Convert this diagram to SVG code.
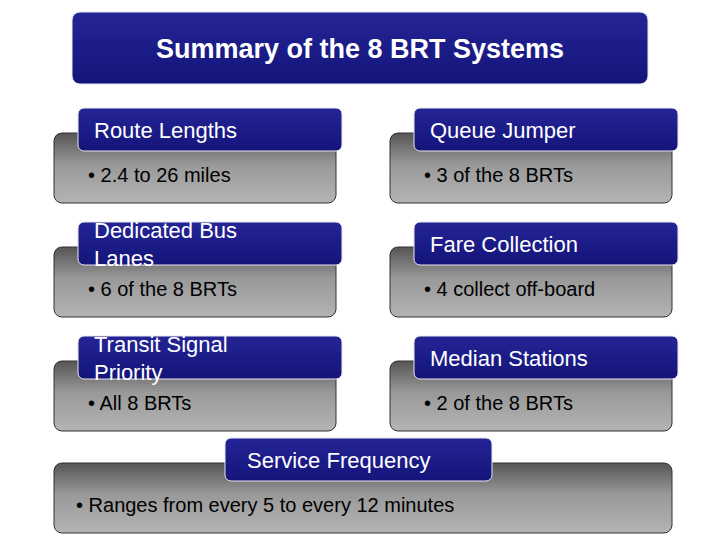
<svg xmlns="http://www.w3.org/2000/svg" width="720" height="540" viewBox="0 0 720 540">
<defs>
<linearGradient id="g" x1="0" y1="0" x2="0" y2="1"><stop offset="0" stop-color="#555"/><stop offset="0.45" stop-color="#999"/><stop offset="1" stop-color="#b4b4b4"/></linearGradient>
<linearGradient id="b" x1="0" y1="0" x2="0" y2="1"><stop offset="0" stop-color="#242496"/><stop offset="1" stop-color="#14147a"/></linearGradient>
<style>
.gr{fill:url(#g);stroke:#333;stroke-width:1}
.bl{fill:url(#b);stroke:#e8e8f0;stroke-width:1}
text{font-family:"Liberation Sans",Arial,sans-serif}
.h{fill:#fff;font-size:22px}
.t{fill:#000;font-size:20px}
</style>
</defs>
<rect width="720" height="540" fill="#fff"/>
<g id="title"><rect x="72" y="12" width="576" height="72" rx="8" class="bl"/><text x="360" y="58" text-anchor="middle" fill="#fff" font-size="27" font-weight="bold">Summary of the 8 BRT Systems</text></g>
<g id="route"><rect x="54" y="133" width="282" height="70" rx="8" class="gr"/><rect x="78" y="108" width="264" height="43" rx="6" class="bl"/><text x="94" y="138" class="h">Route Lengths</text><text x="88" y="182" class="t">• 2.4 to 26 miles</text></g>
<g id="queue"><rect x="390" y="133" width="282" height="70" rx="8" class="gr"/><rect x="414" y="108" width="264" height="43" rx="6" class="bl"/><text x="430" y="138" class="h">Queue Jumper</text><text x="424" y="182" class="t">• 3 of the 8 BRTs</text></g>
<g id="lanes"><rect x="54" y="247" width="282" height="70" rx="8" class="gr"/><rect x="78" y="222" width="264" height="43" rx="6" class="bl"/><text x="94" y="238" class="h">Dedicated Bus</text><text x="94" y="266" class="h">Lanes</text><text x="88" y="296" class="t">• 6 of the 8 BRTs</text></g>
<g id="fare"><rect x="390" y="247" width="282" height="70" rx="8" class="gr"/><rect x="414" y="222" width="264" height="43" rx="6" class="bl"/><text x="430" y="252" class="h">Fare Collection</text><text x="424" y="296" class="t">• 4 collect off-board</text></g>
<g id="signal"><rect x="54" y="361" width="282" height="70" rx="8" class="gr"/><rect x="78" y="336" width="264" height="43" rx="6" class="bl"/><text x="94" y="352" class="h">Transit Signal</text><text x="94" y="380" class="h">Priority</text><text x="88" y="410" class="t">• All 8 BRTs</text></g>
<g id="median"><rect x="390" y="361" width="282" height="70" rx="8" class="gr"/><rect x="414" y="336" width="264" height="43" rx="6" class="bl"/><text x="430" y="366" class="h">Median Stations</text><text x="424" y="410" class="t">• 2 of the 8 BRTs</text></g>
<g id="freq"><rect x="54" y="463" width="618" height="70" rx="8" class="gr"/><rect x="225" y="438" width="267" height="43" rx="6" class="bl"/><text x="247" y="468" class="h">Service Frequency</text><text x="76" y="512" class="t">• Ranges from every 5 to every 12 minutes</text></g>
<g id="connectors"/>
</svg>
